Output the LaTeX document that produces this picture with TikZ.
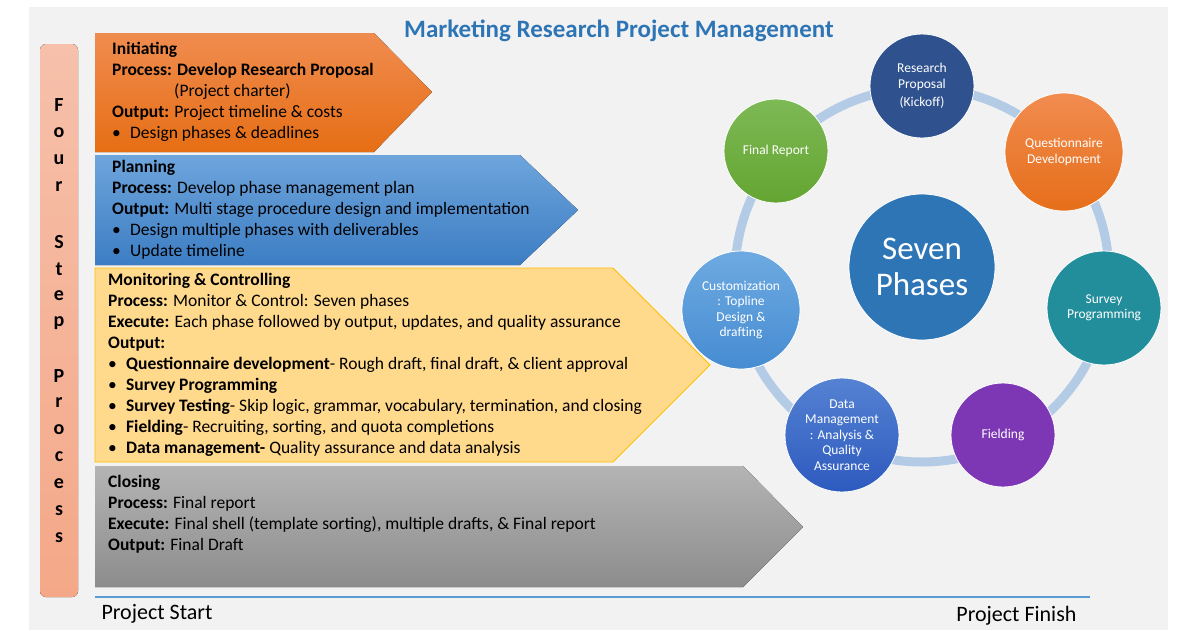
\documentclass[tikz,border=0pt]{standalone}
\usepackage{fontspec}
\setmainfont{Carlito}
\usetikzlibrary{shapes.geometric}
\definecolor{bgc}{HTML}{F2F2F2}
\definecolor{titc}{HTML}{2E75B6}
\definecolor{ringc}{HTML}{B4CBE6}
\definecolor{sbtop}{HTML}{F6C0AA}
\definecolor{sbbot}{HTML}{F4A888}
\tikzset{
  body/.style={font=\fontsize{17.5}{21}\selectfont, align=left, anchor=north west, inner sep=0pt},
  phase/.style={circle, draw=white, line width=0.8pt, text=white, align=center, font=\fontsize{13.5}{15.5}\selectfont, inner sep=0pt},
}
\newcommand{\bul}{\makebox[18pt][l]{\textbullet}}
\begin{document}
\begin{tikzpicture}[x=1pt,y=-1pt]
\useasboundingbox (0,0) rectangle (1200,630);
\fill[white] (0,0) rectangle (1200,630);
\fill[bgc] (29,7) rectangle (1168,630);
\node[font=\fontsize{25}{28}\bfseries\selectfont, text=titc] (title) at (619,31) {Marketing Research Project Management};
% side bar
\fill[top color=sbtop, bottom color=sbbot, rounded corners=6pt] (40,44) rectangle (78,597);
\foreach \c/\y in {F/105,o/133,u/160,r/187,S/242,t/269,e/296,p/323,P/376,r/403,o/430,c/457,e/484,s/511,s/538}
  \node[font=\fontsize{20}{20}\bfseries\selectfont] at (59,\y) {\c};
% pentagons
\fill[top color={rgb,255:red,240;green,140;blue,80}, bottom color={rgb,255:red,230;green,110;blue,20}] (95,33) -- (374,33) -- (432,92) -- (374,152) -- (95,152) -- cycle;
\fill[top color={rgb,255:red,110;green,165;blue,220}, bottom color={rgb,255:red,60;green,125;blue,195}] (95,155) -- (520,155) -- (578,210) -- (520,265) -- (95,265) -- cycle;
\filldraw[fill={rgb,255:red,255;green,217;blue,140}, draw={rgb,255:red,255;green,192;blue,0}, line width=0.8pt] (95,268) -- (613,268) -- (710,365) -- (613,462) -- (95,462) -- cycle;
\fill[top color={rgb,255:red,180;green,180;blue,180}, bottom color={rgb,255:red,140;green,140;blue,140}] (95,466) -- (743,466) -- (803,527) -- (743,587) -- (95,587) -- cycle;
\node[body] (t1) at (112,42) {\textbf{Initiating}\\ \textbf{Process: Develop Research Proposal}\\ \hspace*{62pt}(Project charter)\\ \textbf{Output:} Project timeline \& costs\\ \bul Design phases \& deadlines};
\node[body] (t2) at (112,160) {\textbf{Planning}\\ \textbf{Process:} Develop phase management plan\\ \textbf{Output:} Multi stage procedure design and implementation\\ \bul Design multiple phases with deliverables\\ \bul Update timeline};
\node[body] (t3) at (108,273) {\textbf{Monitoring \& Controlling}\\ \textbf{Process:} Monitor \& Control: Seven phases\\ \textbf{Execute:} Each phase followed by output, updates, and quality assurance\\ \textbf{Output:}\\ \bul\textbf{Questionnaire development}- Rough draft, final draft, \& client approval\\ \bul\textbf{Survey Programming}\\ \bul\textbf{Survey Testing}- Skip logic, grammar, vocabulary, termination, and closing\\ \bul\textbf{Fielding}- Recruiting, sorting, and quota completions\\ \bul\textbf{Data management-} Quality assurance and data analysis};
\node[body] (t4) at (108,475) {\textbf{Closing}\\ \textbf{Process:} Final report\\ \textbf{Execute:} Final shell (template sorting), multiple drafts, \& Final report\\ \textbf{Output:} Final Draft};
% bottom line
\draw[line width=2pt, color={rgb,255:red,91;green,155;blue,213}] (95,597) -- (1090,597);
\node[font=\fontsize{22}{22}\selectfont, anchor=west] (ps) at (98,614) {Project Start};
\node[font=\fontsize{22}{22}\selectfont, anchor=east] (pf) at (1080,616) {Project Finish};
% ring
\draw[ringc, line width=9pt] (922,275) circle (187);
\node[phase, minimum size=146pt, fill={rgb,255:red,46;green,117;blue,182}, font=\fontsize{33}{36}\selectfont] (seven) at (922,267) {Seven\\Phases};
\node[phase, minimum size=104pt, fill={rgb,255:red,47;green,82;blue,143}] (rp) at (922,86) {Research\\Proposal\\[3pt](Kickoff)};
\node[phase, minimum size=118pt, top color={rgb,255:red,241;green,140;blue,80}, bottom color={rgb,255:red,230;green,110;blue,25}] (qd) at (1064,152) {Questionnaire\\Development};
\node[phase, minimum size=114pt, fill={rgb,255:red,35;green,142;blue,155}] (sp) at (1104,308) {Survey\\Programming};
\node[phase, minimum size=104pt, fill={rgb,255:red,125;green,55;blue,180}] (fd) at (1003,435) {Fielding};
\node[phase, minimum size=114pt, top color={rgb,255:red,85;green,130;blue,210}, bottom color={rgb,255:red,45;green,90;blue,190}] (dm) at (842,435) {Data\\Management\\: Analysis \&\\Quality\\Assurance};
\node[phase, minimum size=118pt, top color={rgb,255:red,110;green,170;blue,225}, bottom color={rgb,255:red,70;green,140;blue,210}] (cu) at (741,310) {Customization\\: Topline\\Design \&\\drafting};
\node[phase, minimum size=104pt, top color={rgb,255:red,125;green,185;blue,85}, bottom color={rgb,255:red,100;green,165;blue,50}] (fr) at (776,151) {Final Report};
\end{tikzpicture}
\end{document}
